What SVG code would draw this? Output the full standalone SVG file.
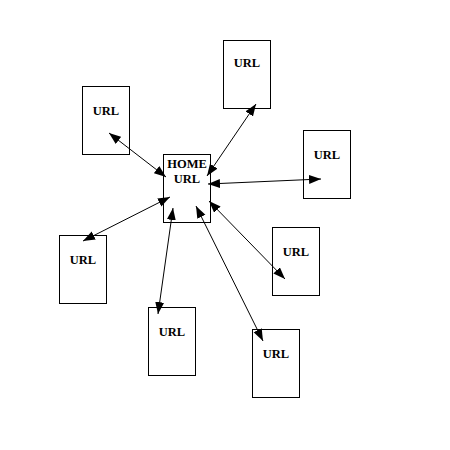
<svg xmlns="http://www.w3.org/2000/svg" width="450" height="450" viewBox="0 0 450 450">
<style>
rect.box{fill:#fff;stroke:#000;stroke-width:1}
text{font-family:"Liberation Serif","Times New Roman",serif;font-size:12.5px;font-weight:bold;fill:#000;text-anchor:middle}
.conn line{stroke:#000;stroke-width:1;marker-start:url(#ah);marker-end:url(#ah)}
</style>
<defs>
<marker id="ah" markerUnits="userSpaceOnUse" markerWidth="14" markerHeight="10" refX="12" refY="4.5" orient="auto-start-reverse">
<path d="M0,0 L12,4.5 L0,9 z" fill="#000"/>
</marker>
</defs>
<rect width="450" height="450" fill="#fff"/>
<g id="home"><rect class="box" x="163.5" y="154.5" width="47" height="68"/><text x="187" y="168">HOME</text><text x="187" y="183">URL</text></g>
<g id="url1"><rect class="box" x="82.5" y="86.5" width="47" height="68"/><text x="106" y="115">URL</text></g>
<g id="url2"><rect class="box" x="223.5" y="40.5" width="47" height="68"/><text x="247" y="67">URL</text></g>
<g id="url3"><rect class="box" x="303.5" y="130.5" width="47" height="68"/><text x="327" y="159">URL</text></g>
<g id="url4"><rect class="box" x="59.5" y="235.5" width="47" height="68"/><text x="83" y="264">URL</text></g>
<g id="url5"><rect class="box" x="148.5" y="307.5" width="47" height="68"/><text x="172" y="336">URL</text></g>
<g id="url6"><rect class="box" x="252.5" y="329.5" width="47" height="68"/><text x="276" y="358">URL</text></g>
<g id="url7"><rect class="box" x="272.5" y="227.5" width="47" height="68"/><text x="296" y="256">URL</text></g>
<g class="conn" id="connectors">
<line x1="166" y1="177" x2="109" y2="133"/>
<line x1="207" y1="176" x2="256" y2="104"/>
<line x1="208" y1="184" x2="321" y2="179"/>
<line x1="170" y1="197" x2="83" y2="241"/>
<line x1="173" y1="208" x2="158" y2="314"/>
<line x1="196" y1="206" x2="263" y2="341"/>
<line x1="209" y1="201" x2="285" y2="279"/>
</g>
</svg>
